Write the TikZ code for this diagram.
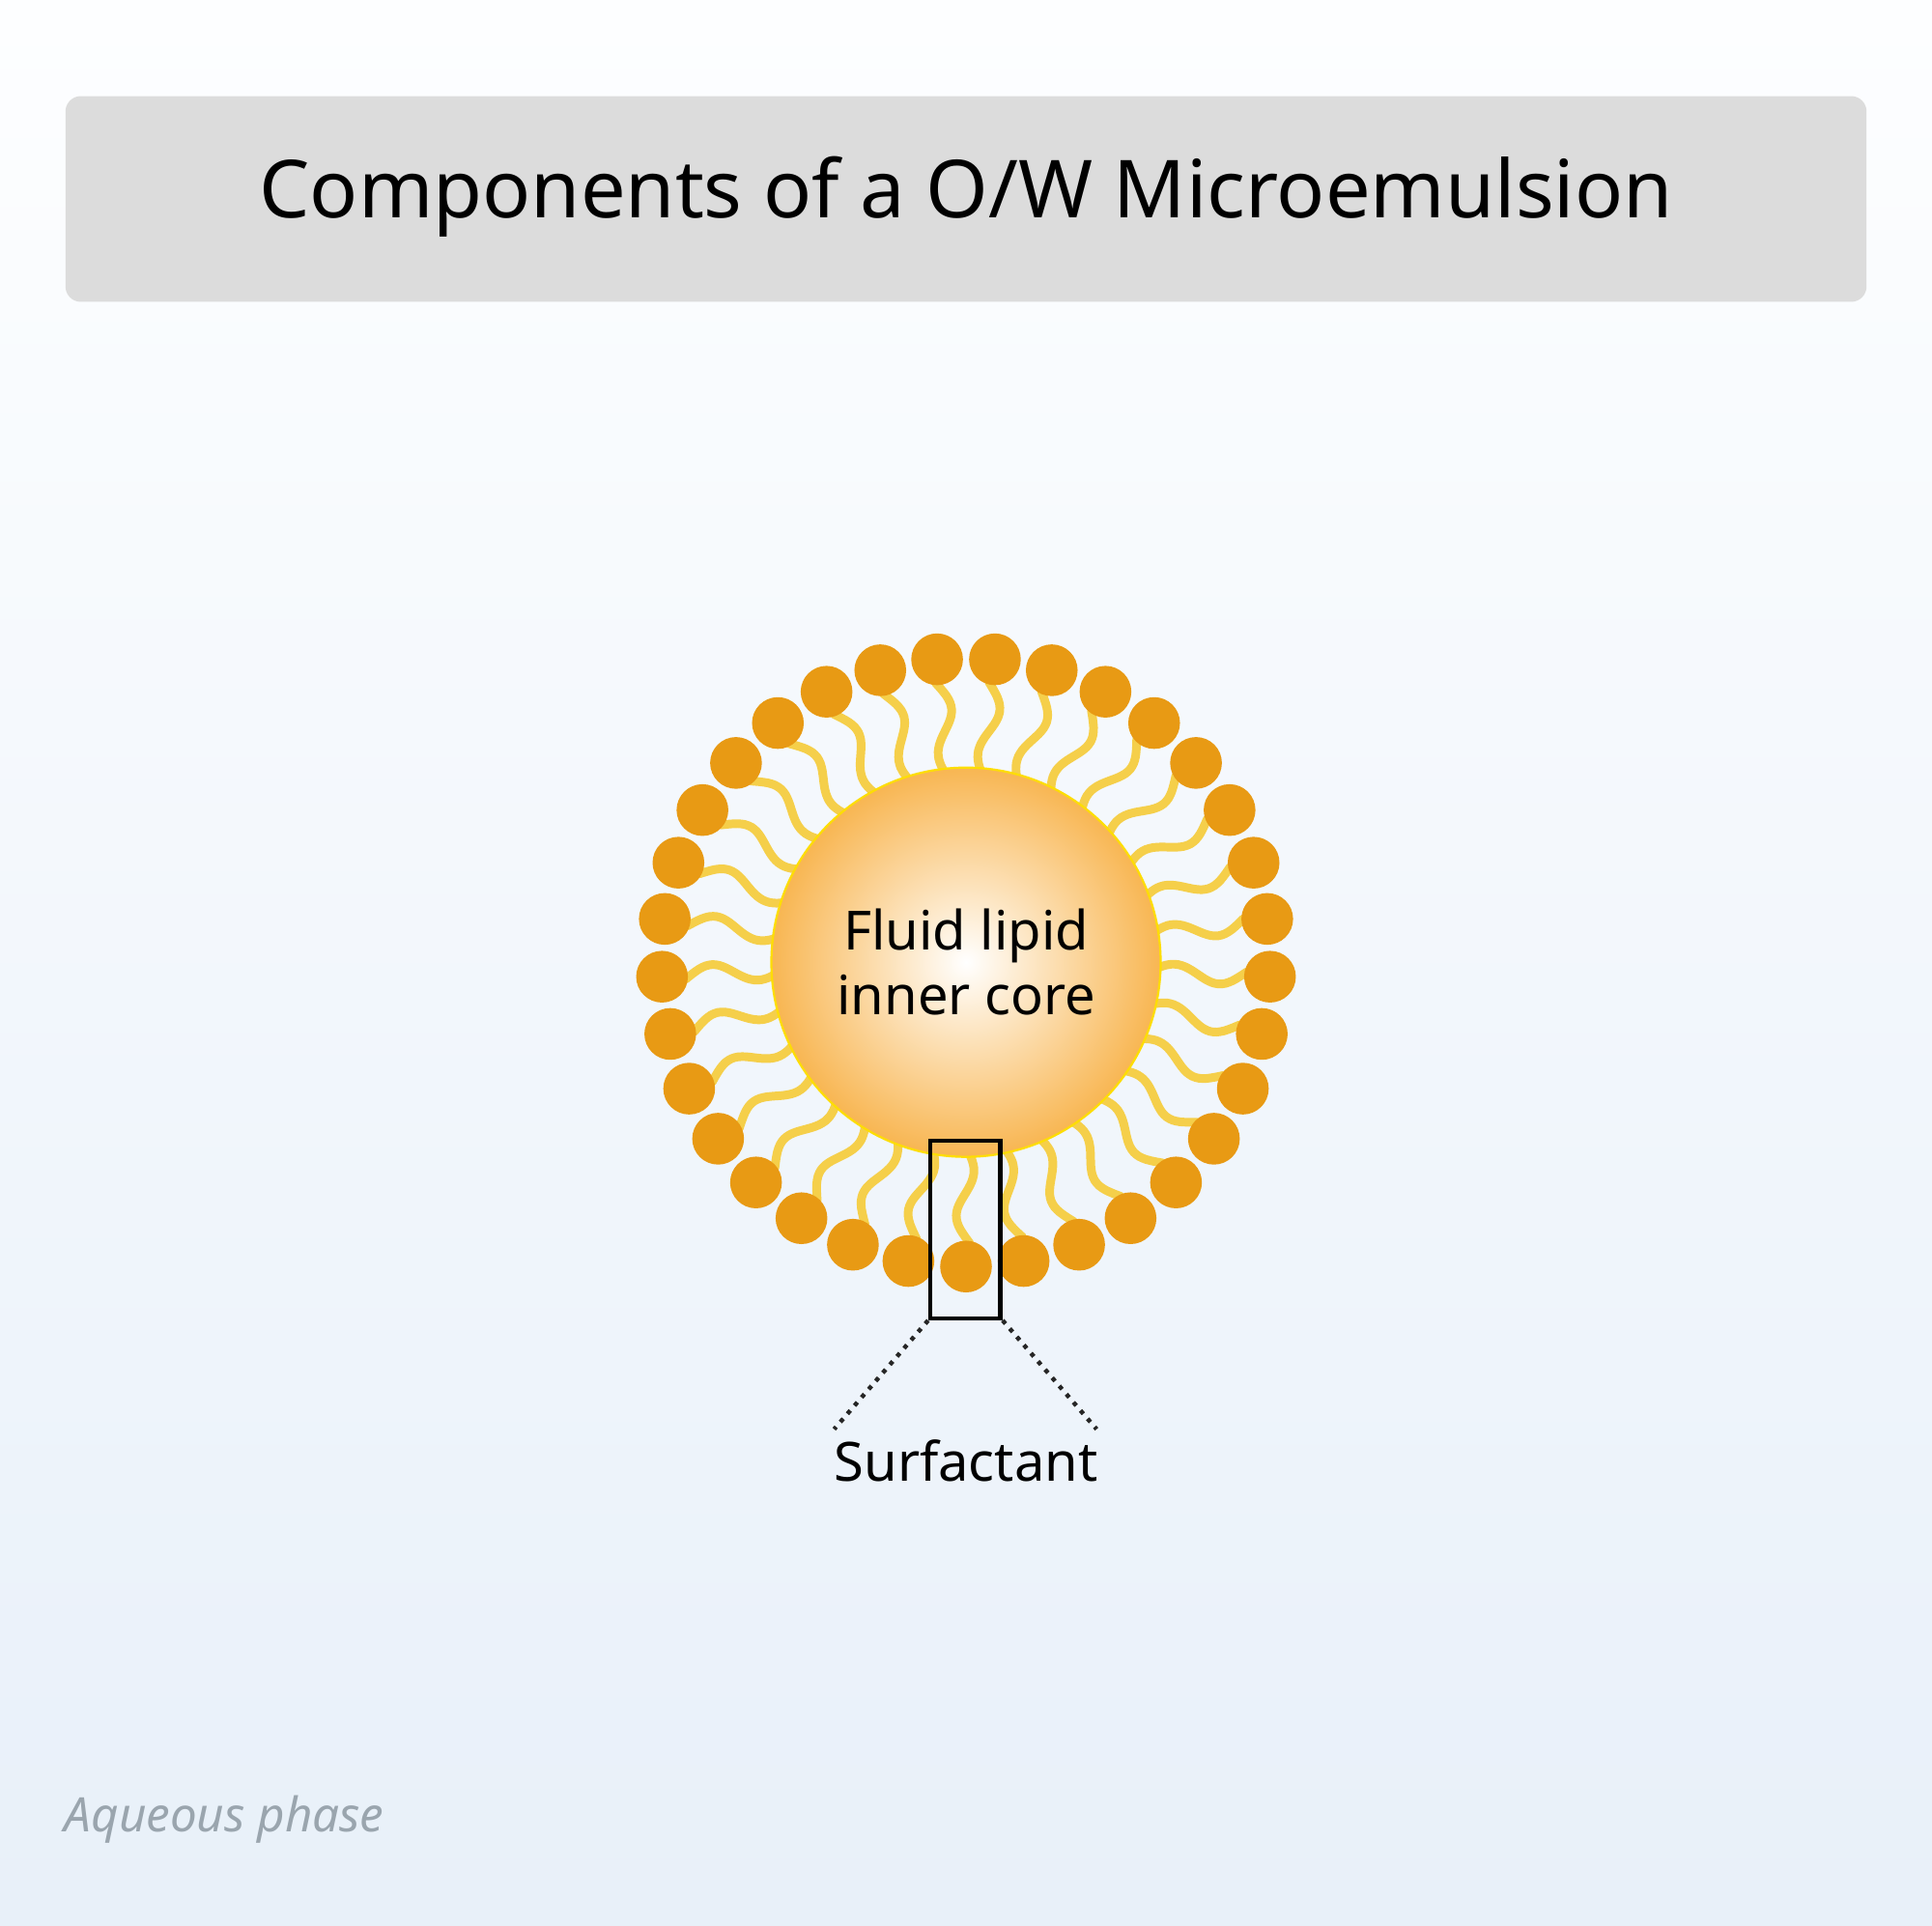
\documentclass[tikz,border=0pt]{standalone}
\usepackage{fontspec}
\setmainfont{Noto Sans}
\begin{document}
\begin{tikzpicture}[x=0.02cm,y=-0.02cm,
  head/.style={fill=headc,draw=none},
  tail/.style={draw=tailc,line width=4pt,line cap=round}]
\definecolor{headc}{HTML}{E89A14}
\definecolor{tailc}{HTML}{F5CF4A}
\definecolor{coreo}{HTML}{F8B652}
\definecolor{bgtop}{HTML}{FDFEFF}
\definecolor{bgbot}{HTML}{E8F0F9}
\definecolor{titlebg}{HTML}{DCDCDC}
\definecolor{aqc}{HTML}{9AA5AE}
\useasboundingbox (0,0) rectangle (1568,1563);
\shade[top color=bgtop,bottom color=bgbot] (0,0) rectangle (1568,1563);
\node[fill=titlebg,rounded corners=0.25cm,minimum width=29.24cm,minimum height=3.34cm,inner sep=0] (titlebox) at (784,161.5) {};
\node[font=\fontsize{37}{44}\selectfont] (title) at (784,160) {Components of a O/W Microemulsion};
% tails
\begin{scope}[shift={(784,781)},x=0.02cm,y=0.02cm]
\foreach \k in {0,...,32}{
  \pgfmathsetmacro{\a}{-90+\k*360/33}
  \draw[tail] plot[smooth,domain=0:1,samples=15,variable=\t] ({\a+2.2*sin(\t*380)}:{150+78*\t});
}
\end{scope}
\shade[inner color=white,outer color=coreo,draw=none] (784,781) circle[radius=3.16cm];
\draw[draw=yellow!80!orange,line width=1pt] (784,781) circle[radius=3.16cm];
\begin{scope}[shift={(784,781)},x=0.02cm,y=0.02cm]
\foreach \k in {0,...,32}{
  \pgfmathsetmacro{\a}{-90+\k*360/33}
  \fill[headc] (\a:247) circle[radius=0.42cm];
}
\end{scope}
\node[font=\fontsize{25}{30}\selectfont,align=center] (core) at (784,781) {Fluid lipid\\inner core};
\node[draw=black,line width=2pt,minimum width=1.14cm,minimum height=2.88cm,inner sep=0] (box) at (783.5,998) {};
\coordinate (l) at (677,1160);
\coordinate (r) at (890,1160);
\draw[dash pattern=on 2pt off 3pt,line width=2pt,black!85] (box.south west) -- (l);
\draw[dash pattern=on 2pt off 3pt,line width=2pt,black!85] (box.south east) -- (r);
\node[font=\fontsize{25}{30}\selectfont] (surf) at (784,1186) {Surfactant};
\node[font=\fontsize{22}{26}\selectfont\itshape,text=aqc,anchor=west,inner sep=0] (aq) at (52,1477) {Aqueous phase};
\end{tikzpicture}
\end{document}
